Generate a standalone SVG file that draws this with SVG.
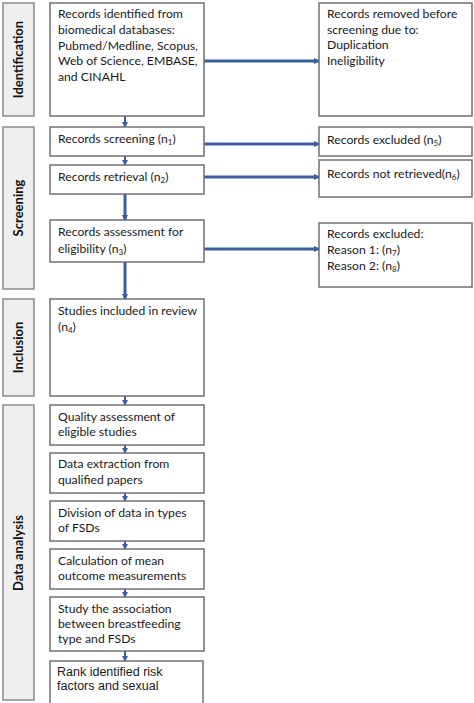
<svg xmlns="http://www.w3.org/2000/svg" width="474" height="703" viewBox="0 0 474 703">
<defs>
<marker id="ah" viewBox="0 0 6 6" refX="5" refY="3" markerWidth="2.2" markerHeight="2.2" orient="auto" markerUnits="strokeWidth">
<path d="M0,0 L6,3 L0,6 z" fill="#3a5d9e"/>
</marker>
<marker id="ahs" viewBox="0 0 6 6" refX="5" refY="3" markerWidth="3" markerHeight="3" orient="auto" markerUnits="strokeWidth">
<path d="M0,0 L6,3 L0,6 z" fill="#3a5d9e"/>
</marker>
</defs>
<style>
.side{fill:#efefef;stroke:#8a8a8a;stroke-width:1.5}
.box{fill:#ffffff;stroke:#707070;stroke-width:1.5}
.lbl{font-family:Lato,"Liberation Sans",sans-serif;font-weight:bold;font-size:13px;fill:#111}
.t{font-family:Lato,"Open Sans",sans-serif;font-size:12.2px;fill:#1a1a1a}
.ta{font-family:"Liberation Sans",Arial,sans-serif;font-size:12.5px;fill:#1a1a1a}
.sub{font-size:8px}
.c{stroke:#3a5d9e;fill:none}
.thick{stroke-width:3}
.thin{stroke-width:2}
</style>
<rect width="474" height="703" fill="#ffffff"/>

<g id="side-identification"><rect class="side" x="3" y="3" width="31" height="113"/><text class="lbl" transform="translate(23,59.5) rotate(-90)" text-anchor="middle">Identification</text></g>
<g id="side-screening"><rect class="side" x="3" y="127" width="31" height="162"/><text class="lbl" transform="translate(23,208) rotate(-90)" text-anchor="middle">Screening</text></g>
<g id="side-inclusion"><rect class="side" x="3" y="299" width="31" height="97"/><text class="lbl" transform="translate(23,347.5) rotate(-90)" text-anchor="middle">Inclusion</text></g>
<g id="side-data-analysis"><rect class="side" x="3" y="405" width="31" height="295"/><text class="lbl" transform="translate(23,553) rotate(-90)" text-anchor="middle">Data analysis</text></g>

<g id="connectors">
<line class="c thick" x1="204" y1="61" x2="319" y2="61" marker-end="url(#ah)"/>
<line class="c thick" x1="204" y1="144" x2="319" y2="144" marker-end="url(#ah)"/>
<line class="c thick" x1="204" y1="177" x2="319" y2="177" marker-end="url(#ah)"/>
<line class="c thick" x1="204" y1="249" x2="319" y2="249" marker-end="url(#ah)"/>
<line class="c thin" x1="125" y1="116" x2="125" y2="127" marker-end="url(#ahs)"/>
<line class="c thin" x1="125" y1="156" x2="125" y2="165" marker-end="url(#ahs)"/>
<line class="c thick" x1="125" y1="194" x2="125" y2="220" marker-end="url(#ah)"/>
<line class="c thick" x1="125" y1="262" x2="125" y2="299" marker-end="url(#ah)"/>
<line class="c thin" x1="125" y1="396" x2="125" y2="405" marker-end="url(#ahs)"/>
<line class="c thin" x1="125" y1="445" x2="125" y2="453" marker-end="url(#ahs)"/>
<line class="c thin" x1="125" y1="493" x2="125" y2="501" marker-end="url(#ahs)"/>
<line class="c thin" x1="125" y1="541" x2="125" y2="549" marker-end="url(#ahs)"/>
<line class="c thin" x1="125" y1="589" x2="125" y2="597" marker-end="url(#ahs)"/>
<line class="c thin" x1="125" y1="651" x2="125" y2="661" marker-end="url(#ahs)"/>
</g>

<g id="records-identified"><rect class="box" x="50" y="3" width="154" height="113"/>
<text class="t" x="58" y="18">Records identified from</text>
<text class="t" x="58" y="34">biomedical databases:</text>
<text class="t" x="58" y="49.5">Pubmed/Medline, Scopus,</text>
<text class="t" x="58" y="65">Web of Science, EMBASE,</text>
<text class="t" x="58" y="81">and CINAHL</text></g>

<g id="records-removed"><rect class="box" x="319" y="3" width="153" height="113"/>
<text class="t" x="327" y="18">Records removed before</text>
<text class="t" x="327" y="33.5">screening due to:</text>
<text class="t" x="327" y="49">Duplication</text>
<text class="t" x="327" y="65">Ineligibility</text></g>

<g id="records-screening"><rect class="box" x="50" y="127" width="154" height="29"/>
<text class="t" x="58" y="143">Records screening (n<tspan class="sub" dy="2">1</tspan><tspan dy="-2">)</tspan></text></g>

<g id="records-excluded-n5"><rect class="box" x="319" y="127" width="153" height="29"/>
<text class="t" x="327" y="144">Records excluded (n<tspan class="sub" dy="2">5</tspan><tspan dy="-2">)</tspan></text></g>

<g id="records-retrieval"><rect class="box" x="50" y="165" width="154" height="29"/>
<text class="t" x="58" y="181">Records retrieval (n<tspan class="sub" dy="2">2</tspan><tspan dy="-2">)</tspan></text></g>

<g id="records-not-retrieved"><rect class="box" x="319" y="160" width="153" height="37"/>
<text class="t" x="327" y="178">Records not retrieved(n<tspan class="sub" dy="2">6</tspan><tspan dy="-2">)</tspan></text></g>

<g id="records-assessment"><rect class="box" x="50" y="220" width="154" height="42"/>
<text class="t" x="58" y="236">Records assessment for</text>
<text class="t" x="58" y="253">eligibility (n<tspan class="sub" dy="2">3</tspan><tspan dy="-2">)</tspan></text></g>

<g id="records-excluded-reasons"><rect class="box" x="319" y="223" width="153" height="64"/>
<text class="t" x="327" y="238">Records excluded:</text>
<text class="t" x="327" y="254">Reason 1: (n<tspan class="sub" dy="2">7</tspan><tspan dy="-2">)</tspan></text>
<text class="t" x="327" y="270">Reason 2: (n<tspan class="sub" dy="2">8</tspan><tspan dy="-2">)</tspan></text></g>

<g id="studies-included"><rect class="box" x="50" y="299" width="154" height="97"/>
<text class="t" x="58" y="315">Studies included in review</text>
<text class="t" x="58" y="331">(n<tspan class="sub" dy="2">4</tspan><tspan dy="-2">)</tspan></text></g>

<g id="quality-assessment"><rect class="box" x="50" y="405" width="154" height="40"/>
<text class="t" x="58" y="421">Quality assessment of</text>
<text class="t" x="58" y="436">eligible studies</text></g>

<g id="data-extraction"><rect class="box" x="50" y="453" width="154" height="40"/>
<text class="t" x="58" y="468">Data extraction from</text>
<text class="t" x="58" y="484">qualified papers</text></g>

<g id="division-of-data"><rect class="box" x="50" y="501" width="154" height="40"/>
<text class="t" x="58" y="517">Division of data in types</text>
<text class="t" x="58" y="532">of FSDs</text></g>

<g id="calculation"><rect class="box" x="50" y="549" width="154" height="40"/>
<text class="t" x="58" y="565">Calculation of mean</text>
<text class="t" x="58" y="580">outcome measurements</text></g>

<g id="study-association"><rect class="box" x="50" y="597" width="154" height="54"/>
<text class="t" x="58" y="613">Study the association</text>
<text class="t" x="58" y="628">between breastfeeding</text>
<text class="t" x="58" y="643">type and FSDs</text></g>

<g id="rank-factors"><rect class="box" x="50" y="661" width="153" height="46"/>
<text class="ta" x="57" y="676">Rank identified risk</text>
<text class="ta" x="57" y="690">factors and sexual</text></g>
</svg>
